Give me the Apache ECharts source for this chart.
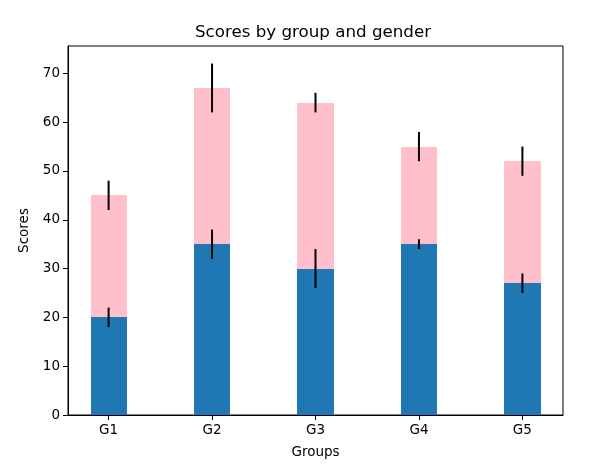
<!DOCTYPE html>
<html>
<head>
<meta charset="utf-8">
<script src="https://cdn.jsdelivr.net/npm/echarts@6/dist/echarts.min.js"></script>
<style>
  html, body { margin: 0; padding: 0; background: #fff; }
  #main { width: 597px; height: 467px; }
</style>
</head>
<body>
<div id="main"></div>
<script>
const groups = ['G1', 'G2', 'G3', 'G4', 'G5'];
const menMeans = [20, 35, 30, 35, 27];
const womenMeans = [25, 32, 34, 20, 25];
const menStd = [2, 3, 4, 1, 2];
const womenStd = [3, 5, 2, 3, 3];
const yTicks = [0, 10, 20, 30, 40, 50, 60, 70];

const barWidth = 0.35;
const font = 'DejaVu Sans';

const chart = echarts.init(document.getElementById('main'));

// stacked bar pieces: [x, bottom, top]
const menBars = groups.map((g, i) => [i, 0, menMeans[i]]);
const womenBars = groups.map((g, i) => [i, menMeans[i], menMeans[i] + womenMeans[i]]);
// error bars: [x, center, std]
const errs = [];
groups.forEach((g, i) => {
  errs.push([i, menMeans[i], menStd[i]]);
  errs.push([i, menMeans[i] + womenMeans[i], womenStd[i]]);
});

function barRender(color) {
  return function (params, api) {
    const x = api.value(0);
    const p0 = api.coord([x - barWidth / 2, api.value(2)]);
    const p1 = api.coord([x + barWidth / 2, api.value(1)]);
    const x0 = Math.round(p0[0]), y0 = Math.round(p0[1]);
    const x1 = Math.round(p1[0]), y1 = Math.round(p1[1]);
    return {
      type: 'rect',
      shape: { x: x0, y: y0, width: x1 - x0, height: y1 - y0 },
      style: { fill: color, stroke: null, lineWidth: 0 }
    };
  };
}

function errRender(params, api) {
  const x = api.value(0), c = api.value(1), s = api.value(2);
  const a = api.coord([x, c - s]);
  const b = api.coord([x, c + s]);
  return {
    type: 'line',
    shape: { x1: a[0], y1: a[1], x2: b[0], y2: b[1] },
    style: { stroke: '#000', lineWidth: 2 }
  };
}

const option = {
  animation: false,
  title: {
    text: 'Scores by group and gender',
    left: 308,
    textAlign: 'center',
    top: 19,
    textStyle: { fontFamily: font, fontSize: 16.7, fontWeight: 'normal', color: '#000' }
  },
  grid: {
    left: 68, right: 34, top: 46, bottom: 52,
    show: true, borderColor: '#000', borderWidth: 1
  },
  xAxis: {
    type: 'value',
    min: -0.3925,
    max: 4.3925,
    name: 'Groups',
    nameLocation: 'middle',
    nameGap: 30,
    nameTextStyle: { fontFamily: font, fontSize: 13.5, color: '#000' },
    splitLine: { show: false },
    axisLine: { show: true, onZero: false, lineStyle: { color: '#000', width: 1 } },
    axisTick: { show: true, length: 5, customValues: [0, 1, 2, 3, 4], lineStyle: { color: '#000' } },
    axisLabel: {
      customValues: [0, 1, 2, 3, 4],
      formatter: v => groups[Math.round(v)],
      fontFamily: font, fontSize: 13.5, color: '#000', margin: 8
    }
  },
  yAxis: {
    type: 'value',
    min: 0,
    max: 75.6,
    name: 'Scores',
    nameLocation: 'middle',
    nameGap: 34,
    nameTextStyle: { fontFamily: font, fontSize: 13.5, color: '#000' },
    splitLine: { show: false },
    axisLine: { show: true, onZero: false, lineStyle: { color: '#000', width: 1 } },
    axisTick: { show: true, length: 5, customValues: yTicks, lineStyle: { color: '#000' } },
    axisLabel: {
      customValues: yTicks,
      fontFamily: font, fontSize: 13.5, color: '#000', margin: 8
    }
  },
  series: [
    { type: 'custom', renderItem: barRender('#1f77b4'), data: menBars, z: 2 },
    { type: 'custom', renderItem: barRender('#ffc0cb'), data: womenBars, z: 2 },
    { type: 'custom', renderItem: errRender, data: errs, z: 3 }
  ]
};

chart.setOption(option);
</script>
</body>
</html>
